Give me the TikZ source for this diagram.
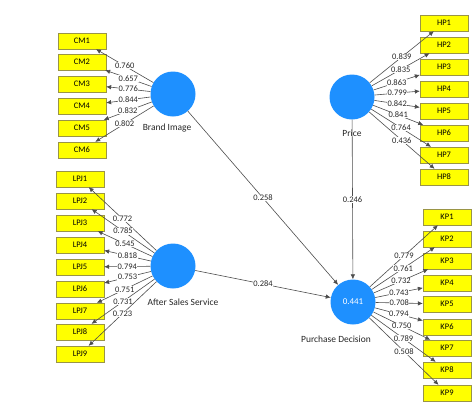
\documentclass[tikz,border=0pt]{standalone}
\usepackage{fontspec}
\setmainfont{Carlito}
\usetikzlibrary{arrows.meta}
\definecolor{lvblue}{RGB}{30,144,255}
\definecolor{mvyellow}{RGB}{255,255,0}

\begin{document}
\begin{tikzpicture}[x=1bp,y=-1bp,
  latent/.style={circle,fill=lvblue,minimum size=45bp,inner sep=0pt},
  indicator/.style={rectangle,fill=mvyellow,draw=yellow!55!black,line width=0.3pt,
    minimum width=48bp,minimum height=16bp,inner sep=0pt,font=\fontsize{8.5}{9}\selectfont},
  load/.style={draw=black!70,line width=0.6pt,-{Latex[length=5pt,width=4.5pt]}},
  num/.style={fill=white,inner sep=0.5pt,font=\fontsize{8.5}{9}\selectfont,text=black!85},
  lvname/.style={font=\fontsize{9.5}{10}\selectfont,text=black!85}]

\useasboundingbox (0,0) rectangle (474,404);

%Latent variables
\node[latent] (BI) at (173,94) {};
\node[latent] (PR) at (352,97) {};
\node[latent] (ASS) at (173,266) {};
\node[latent,text=white,font=\fontsize{9}{10}\selectfont] (PD) at (353,302) {0.441};

\node[lvname] (BIname) at (167,128) {Brand Image};
\node[lvname] (PRname) at (352,133) {Price};
\node[lvname] (ASSname) at (183,302) {After Sales Service};
\node[lvname] (PDname) at (336,339) {Purchase Decision};

%Indicator boxes
\foreach \i/\y in {1/41,2/62,3/84,4/106,5/128,6/150}
  \node[indicator] (CM\i) at (82,\y) {CM\i};
\foreach \i/\y in {1/23,2/45,3/67,4/89,5/111,6/133,7/155,8/177}
  \node[indicator] (HP\i) at (444,\y) {HP\i};
\foreach \i/\y in {1/179,2/201,3/223,4/245,5/267,6/289,7/311,8/332,9/354}
  \node[indicator] (LPJ\i) at (80,\y) {LPJ\i};
\foreach \i/\y in {1/217,2/239,3/261,4/283,5/304,6/327,7/348,8/370,9/393}
  \node[indicator] (KP\i) at (447,\y) {KP\i};

%Outer loadings
\foreach \i/\v in {1/0.760,2/0.657,3/0.776,4/0.844,5/0.832,6/0.802}
  \draw[load] (BI) -- node[num] {\v} (CM\i);
\foreach \i/\v in {1/0.839,2/0.835,3/0.863,4/0.799,5/0.842,6/0.841,7/0.764,8/0.436}
  \draw[load] (PR) -- node[num] {\v} (HP\i);
\foreach \i/\v in {1/0.772,2/0.785,3/0.545,4/0.818,5/0.794,6/0.753,7/0.751,8/0.731,9/0.723}
  \draw[load] (ASS) -- node[num] {\v} (LPJ\i);
\foreach \i/\v in {1/0.779,2/0.761,3/0.732,4/0.743,5/0.708,6/0.794,7/0.750,8/0.789,9/0.508}
  \draw[load] (PD) -- node[num] {\v} (KP\i);

%Path coefficients
\draw[load] (BI) -- node[num] {0.258} (PD);
\draw[load] (PR) -- node[num] {0.246} (PD);
\draw[load] (ASS) -- node[num] {0.284} (PD);
\end{tikzpicture}
\end{document}
